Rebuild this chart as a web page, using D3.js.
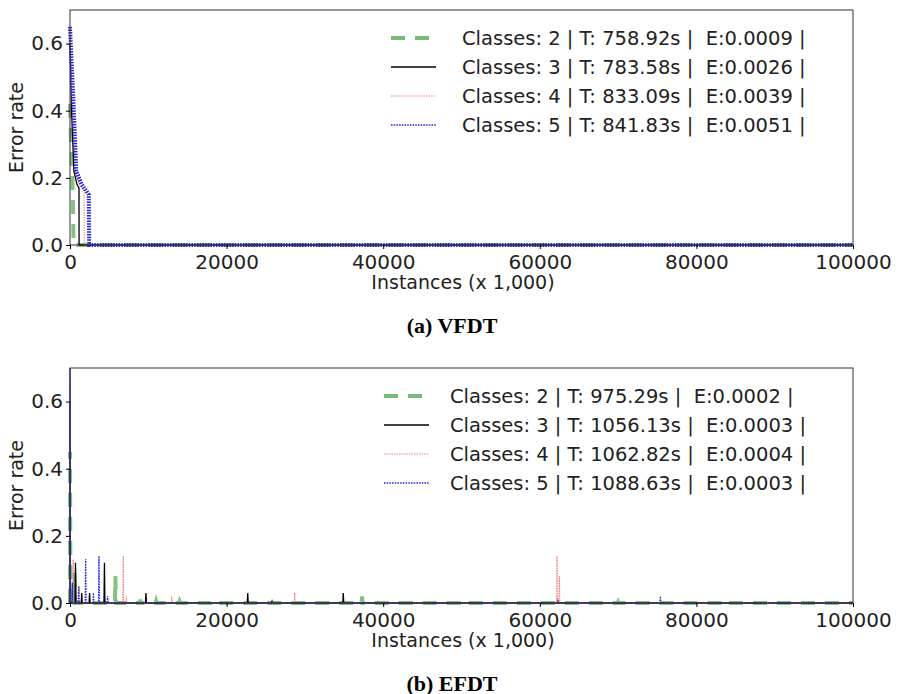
<!DOCTYPE html><html><head><meta charset="utf-8">
<script src="https://cdn.jsdelivr.net/npm/d3@7"></script>
<style>body{margin:0;background:#fff}svg{font-family:"DejaVu Sans",sans-serif}text{white-space:pre}</style></head><body>
<script>
// Legend data
const vfdtLabels=["Classes: 2 | T: 758.92s |  E:0.0009 |","Classes: 3 | T: 783.58s |  E:0.0026 |","Classes: 4 | T: 833.09s |  E:0.0039 |","Classes: 5 | T: 841.83s |  E:0.0051 |"];
const efdtLabels=["Classes: 2 | T: 975.29s |  E:0.0002 |","Classes: 3 | T: 1056.13s |  E:0.0003 |","Classes: 4 | T: 1062.82s |  E:0.0004 |","Classes: 5 | T: 1088.63s |  E:0.0003 |"];
const yTicks=[0,0.2,0.4,0.6];
const xTicks=[0,20000,40000,60000,80000,100000];
// VFDT curves [x, error]
const vfdtC2=[[0,0.42],[150,0.3],[300,0.2],[400,0.1],[450,0],[100000,0]];
const vfdtC3=[[0,0.6],[200,0.4],[500,0.22],[900,0.18],[1150,0.17],[1160,0],[100000,0]];
const vfdtC4=[[0,0.62],[300,0.42],[700,0.21],[1200,0.18],[1800,0.16],[1810,0],[100000,0]];
const vfdtC5=[[0,0.65],[400,0.45],[800,0.22],[1500,0.18],[2400,0.15],[2450,0],[100000,0]];
// EFDT spikes [x, error]
const efdtC2=[[0,0.45],[600,0.09],[5800,0.08],[9000,0.01],[11000,0.005],[14000,0.004],[18000,0.005],[37300,0.02],[50000,0.004],[70000,0.003],[84000,0.005]];
const efdtC3=[[0,0.6],[700,0.12],[1500,0.03],[2500,0.03],[4400,0.12],[9700,0.03],[22700,0.03],[25800,0.005],[34900,0.03],[62300,0.01]];
const efdtC4=[[0,0.65],[400,0.13],[1200,0.05],[6800,0.14],[7200,0.02],[13000,0.02],[28700,0.03],[62200,0.14],[62500,0.08]];
const efdtC5=[[0,0.7],[300,0.06],[1100,0.05],[2000,0.13],[3700,0.14],[3000,0.03],[4800,0.02],[75400,0.02]];

const styles=[{c:"#77bb77",w:4,d:"14,10"},{c:"#000",w:1.3,d:null},{c:"#f28080",w:1,d:"1.5,1"},{c:"#2222dd",w:1.3,d:"1.5,1.2"}];
const svg=d3.select("body").append("svg").attr("width",904).attr("height",694);

function spikes(arr){const pts=[];arr.slice().sort((a,b)=>a[0]-b[0]).forEach(([x,y])=>{pts.push([Math.max(0,x-60),0],[x,y],[x+60,0]);});pts.push([100000,0]);return pts;}

function panel(top,bottom,series,labels,caption,legX,txtX,thickBlue){
  const x=d3.scaleLinear().domain([0,100000]).range([70,853]);
  const y=d3.scaleLinear().domain([0,0.7]).range([bottom,top]);
  const g=svg.append("g");
  const line=d3.line().x(d=>x(d[0])).y(d=>y(d[1]));
  series.forEach((s,i)=>{const w=(thickBlue&&i==3)?4:styles[i].w;g.append("path").attr("d",line(s)).attr("fill","none").attr("stroke",styles[i].c).attr("stroke-width",w).attr("stroke-dasharray",styles[i].d).attr("opacity",i==0?0.9:1);});
  g.append("rect").attr("x",70).attr("y",top).attr("width",783).attr("height",bottom-top).attr("fill","none").attr("stroke","#333");
  const ya=g.append("g").attr("transform","translate(70,0)").call(d3.axisLeft(y).tickValues(yTicks).tickFormat(d3.format(".1f")).tickSize(4));
  const xa=g.append("g").attr("transform",`translate(0,${bottom})`).call(d3.axisBottom(x).tickValues(xTicks).tickFormat(d=>d).tickSize(4));
  [ya,xa].forEach(a=>{a.select(".domain").remove();a.selectAll("text").attr("font-size",20).attr("fill","#222").attr("font-family","DejaVu Sans");});
  xa.selectAll("text").attr("dy","0.85em");
  g.append("text").attr("x",463).attr("y",bottom+44).attr("text-anchor","middle").attr("font-size",19).attr("fill","#222").text("Instances (x 1,000)");
  g.append("text").attr("transform",`translate(23,${(top+bottom)/2}) rotate(-90)`).attr("text-anchor","middle").attr("font-size",19).attr("fill","#222").text("Error rate");
  labels.forEach((t,i)=>{const yy=top+28+i*29;
    g.append("line").attr("x1",legX).attr("x2",legX+45).attr("y1",yy).attr("y2",yy).attr("stroke",styles[i].c).attr("stroke-width",styles[i].w).attr("stroke-dasharray",i==0?"14,10":styles[i].d);
    g.append("text").attr("x",txtX).attr("y",yy+7).attr("font-size",19.5).attr("fill","#222").text(t);});
  g.append("text").attr("x",452).attr("y",bottom+88).attr("text-anchor","middle").attr("font-family","Liberation Serif").attr("font-weight","bold").attr("font-size",22).text(caption);
}
panel(10,245,[vfdtC2,vfdtC3,vfdtC4,vfdtC5],vfdtLabels,"(a) VFDT",391,462,true);
panel(368,603,[spikes(efdtC2),spikes(efdtC3),spikes(efdtC4),spikes(efdtC5)],efdtLabels,"(b) EFDT",384,450,false);
</script></body></html>
